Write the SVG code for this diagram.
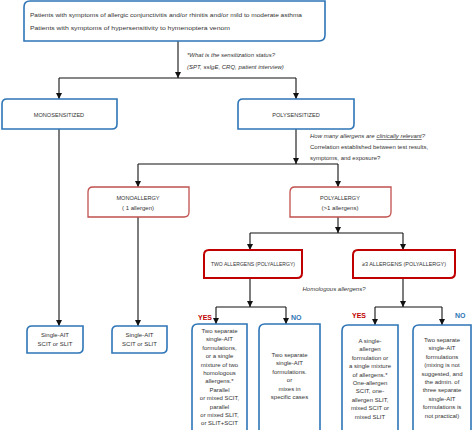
<svg xmlns="http://www.w3.org/2000/svg" width="474" height="430" viewBox="0 0 474 430">
<defs>
<marker id="arr" viewBox="0 0 6 6" refX="6" refY="3" markerWidth="6" markerHeight="6" markerUnits="userSpaceOnUse" orient="auto">
<path d="M0,0 L6,3 L0,6 Z" fill="#111"/>
</marker>
</defs>
<style>
text{font-family:"Liberation Sans",Arial,sans-serif;font-size:6px;fill:#333}
.c{text-anchor:middle}
.i{font-style:italic}
.u{font-size:5.6px}
.blue{fill:#fff;stroke:#2e75b6;stroke-width:1.6}
.red1{fill:#fff;stroke:#c0504d;stroke-width:1.3}
.red2{fill:#fff;stroke:#c00000;stroke-width:2}
.ln{fill:none;stroke:#111;stroke-width:1.1}
.ar{marker-end:url(#arr)}
.yes{fill:#c00000;font-weight:bold;font-size:7px}
.no{fill:#2e75b6;font-weight:bold;font-size:7px}
</style>
<rect width="474" height="430" fill="#fff"/>

<g id="connectors">
<path class="ln ar" d="M178,41 V78"/>
<path class="ln" d="M59,78 H296"/>
<path class="ln ar" d="M59,78 V99"/>
<path class="ln ar" d="M296,78 V99"/>
<path class="ln ar" d="M59,129 V326"/>
<path class="ln ar" d="M296,129 V164"/>
<path class="ln" d="M138,164 H338"/>
<path class="ln ar" d="M138,164 V187"/>
<path class="ln ar" d="M338,164 V187"/>
<path class="ln ar" d="M138,217 V326"/>
<path class="ln ar" d="M338,217 V233"/>
<path class="ln" d="M250,233 H403"/>
<path class="ln ar" d="M250,233 V250"/>
<path class="ln ar" d="M403,233 V250"/>
<path class="ln ar" d="M250,278 V307"/>
<path class="ln" d="M216,307 H286"/>
<path class="ln ar" d="M216,307 V324"/>
<path class="ln ar" d="M286,307 V324"/>
<path class="ln ar" d="M403,278 V307"/>
<path class="ln" d="M375,307 H442"/>
<path class="ln ar" d="M375,307 V325"/>
<path class="ln ar" d="M442,307 V325"/>
</g>

<g id="labels">
<text class="i" x="187" y="57">*What is the sensitization status?</text>
<text class="i" x="187" y="69">(SPT, ssIgE, CRQ, patient interview)</text>
<text x="310" y="138"><tspan class="i">How many allergens are </tspan><tspan class="i" text-decoration="underline">clinically relevant</tspan><tspan class="i">?</tspan></text>
<text x="310" y="149">Correlation established between test results,</text>
<text x="310" y="160">symptoms, and exposure?</text>
<text class="i c" x="334" y="291">Homologous allergens?</text>
<text class="yes" x="198" y="320">YES</text>
<text class="no" x="291" y="320">NO</text>
<text class="yes" x="352" y="318">YES</text>
<text class="no" x="455" y="318">NO</text>
</g>

<g id="n-patients">
<path class="blue" d="M30,1 H325 V35 Q325,41 319,41 H24 V7 Q24,1 30,1 Z"/>
<text x="30" y="17" textLength="272" lengthAdjust="spacingAndGlyphs">Patients with symptoms of allergic conjunctivitis  and/or rhinitis and/or mild to moderate asthma</text>
<text x="30" y="30" textLength="200" lengthAdjust="spacingAndGlyphs">Patients with symptoms of hypersensitivity to hymenoptera venom</text>
</g>

<g id="n-mono">
<path class="blue" d="M7,99 H117 V124 Q117,129 112,129 H2 V104 Q2,99 7,99 Z"/>
<text class="c u" x="59" y="117">MONOSENSITIZED</text>
</g>

<g id="n-poly">
<path class="blue" d="M243,99 H354 V124 Q354,129 349,129 H238 V104 Q238,99 243,99 Z"/>
<text class="c u" x="296" y="117">POLYSENSITIZED</text>
</g>

<g id="n-monoallergy">
<path class="red1" d="M93,187 H189 V212 Q189,217 184,217 H88 V192 Q88,187 93,187 Z"/>
<text class="c u" x="138" y="200">MONOALLERGY</text>
<text class="c" x="138" y="210">( 1 allergen)</text>
</g>

<g id="n-polyallergy">
<path class="red1" d="M295,187 H391 V212 Q391,217 386,217 H290 V192 Q290,187 295,187 Z"/>
<text class="c u" x="340" y="200">POLYALLERGY</text>
<text class="c" x="340" y="210">(&gt;1 allergens)</text>
</g>

<g id="n-two">
<path class="red2" d="M209,250 H302 V273 Q302,278 297,278 H204 V255 Q204,250 209,250 Z"/>
<text class="c" x="253" y="266" font-size="5.3" textLength="84" lengthAdjust="spacingAndGlyphs">TWO ALLERGENS (POLYALLERGY)</text>
</g>

<g id="n-three">
<path class="red2" d="M358,250 H455 V273 Q455,278 450,278 H353 V255 Q353,250 358,250 Z"/>
<text class="c" x="404" y="266" font-size="5.3" textLength="84" lengthAdjust="spacingAndGlyphs">≥3  ALLERGENS (POLYALLERGY)</text>
</g>

<g id="n-single1">
<path class="blue" d="M32,326 H83 V348 Q83,353 78,353 H27 V331 Q27,326 32,326 Z"/>
<text class="c" x="55" y="337">Single-AIT</text>
<text class="c" x="55" y="346">SCIT or SLIT</text>
</g>

<g id="n-single2">
<path class="blue" d="M117,326 H167 V348 Q167,353 162,353 H112 V331 Q112,326 117,326 Z"/>
<text class="c" x="139.5" y="337">Single-AIT</text>
<text class="c" x="139.5" y="346">SCIT or SLIT</text>
</g>

<g id="n-yes1">
<path class="blue" d="M198,324 H247 V430 Q247,436 241,436 H192 V330 Q192,324 198,324 Z"/>
<text class="c" x="219.5" y="333">Two separate</text>
<text class="c" x="219.5" y="341.4">single-AIT</text>
<text class="c" x="219.5" y="349.8">formulations,</text>
<text class="c" x="219.5" y="358.2">or a single</text>
<text class="c" x="219.5" y="366.6">mixture of two</text>
<text class="c" x="219.5" y="375">homologous</text>
<text class="c" x="219.5" y="383.4">allergens.*</text>
<text class="c" x="219.5" y="391.8">Parallel</text>
<text class="c" x="219.5" y="400.2">or mixed SCIT,</text>
<text class="c" x="219.5" y="408.6">parallel</text>
<text class="c" x="219.5" y="417">or mixed SLIT,</text>
<text class="c" x="219.5" y="425.4">or SLIT+SCIT</text>
</g>

<g id="n-no1">
<path class="blue" d="M265,324 H320 V430 Q320,436 314,436 H259 V330 Q259,324 265,324 Z"/>
<text class="c" x="289.5" y="357">Two separate</text>
<text class="c" x="289.5" y="365.4">single-AIT</text>
<text class="c" x="289.5" y="373.8">formulations.</text>
<text class="c" x="289.5" y="382.2">or</text>
<text class="c" x="289.5" y="390.6">mixes in</text>
<text class="c" x="289.5" y="399">specific cases</text>
</g>

<g id="n-yes2">
<path class="blue" d="M348,325 H398 V430 Q398,436 392,436 H342 V331 Q342,325 348,325 Z"/>
<text class="c" x="370" y="343">A single-</text>
<text class="c" x="370" y="351.4">allergen</text>
<text class="c" x="370" y="359.8">formulation or</text>
<text class="c" x="370" y="368.2">a single mixture</text>
<text class="c" x="370" y="376.6">of allergens.*</text>
<text class="c" x="370" y="385">One-allergen</text>
<text class="c" x="370" y="393.4">SCIT, one-</text>
<text class="c" x="370" y="401.8">allergen SLIT,</text>
<text class="c" x="370" y="410.2">mixed SCIT or</text>
<text class="c" x="370" y="418.6">mixed SLIT</text>
</g>

<g id="n-no2">
<path class="blue" d="M419,325 H471 V430 Q471,436 465,436 H413 V331 Q413,325 419,325 Z"/>
<text class="c" x="442" y="342">Two separate</text>
<text class="c" x="442" y="350.4">single-AIT</text>
<text class="c" x="442" y="358.8">formulations</text>
<text class="c" x="442" y="367.2">(mixing is not</text>
<text class="c" x="442" y="375.6">suggested, and</text>
<text class="c" x="442" y="384">the admin. of</text>
<text class="c" x="442" y="392.4">three separate</text>
<text class="c" x="442" y="400.8">single-AIT</text>
<text class="c" x="442" y="409.2">formulations is</text>
<text class="c" x="442" y="417.6">not practical)</text>
</g>
</svg>
